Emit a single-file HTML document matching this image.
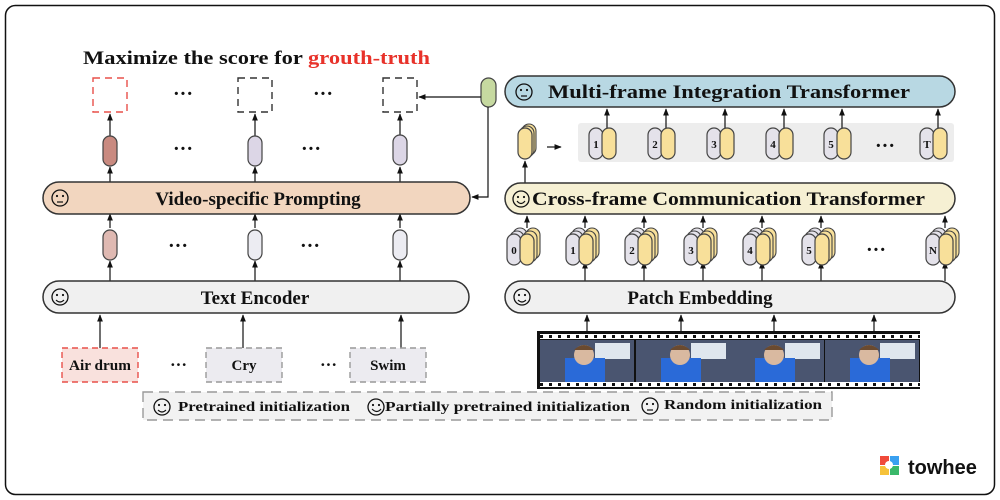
<!DOCTYPE html>
<html><head><meta charset="utf-8"><style>
html,body{margin:0;padding:0;background:#fff;width:1000px;height:500px;overflow:hidden}
svg{display:block}
text{font-family:"Liberation Serif",serif;font-weight:bold;fill:#111}
</style></head><body>
<svg width="1000" height="500" viewBox="0 0 1000 500" xmlns="http://www.w3.org/2000/svg">
<defs>
<marker id="ah" viewBox="0 0 10 10" refX="9" refY="5" markerWidth="6" markerHeight="6" orient="auto-start-reverse"><path d="M0,1 L10,5 L0,9 z" fill="#111"/></marker>
<g id="face">
<circle cx="0" cy="0" r="8" fill="none" stroke="#111" stroke-width="1.3"/>
<circle cx="-3" cy="-2" r="1.1" fill="#111"/><circle cx="3" cy="-2" r="1.1" fill="#111"/>
</g>
<g id="pair">
<rect x="0" y="0" width="14" height="31" rx="7" fill="#e4e2ea" stroke="#444" stroke-width="1.2"/>
<rect x="13" y="0" width="14" height="31" rx="7" fill="#f8e09a" stroke="#444" stroke-width="1.2"/>
</g>
<g id="stack">
<rect x="6" y="-6" width="14" height="31" rx="7" fill="#e4e2ea" stroke="#444" stroke-width="1.1"/>
<rect x="3" y="-3" width="14" height="31" rx="7" fill="#e4e2ea" stroke="#444" stroke-width="1.1"/>
<rect x="0" y="0" width="14" height="31" rx="7" fill="#e4e2ea" stroke="#444" stroke-width="1.2"/>
<rect x="19" y="-6" width="14" height="31" rx="7" fill="#f8e09a" stroke="#444" stroke-width="1.1"/>
<rect x="16" y="-3" width="14" height="31" rx="7" fill="#f8e09a" stroke="#444" stroke-width="1.1"/>
<rect x="13" y="0" width="14" height="31" rx="7" fill="#f8e09a" stroke="#444" stroke-width="1.2"/>
</g>
<g id="frame">
<rect x="0" y="0" width="94" height="42" fill="#6a7aa0"/>
<rect x="0" y="0" width="94" height="42" fill="#2a3040" opacity="0.5"/>
<rect x="55" y="3" width="35" height="16" fill="#dfe6ee"/>
<rect x="25" y="18" width="40" height="24" fill="#2a6ad8"/>
<circle cx="44" cy="15" r="10" fill="#d9b9a0"/>
<path d="M34 10 Q44 0 54 10 Z" fill="#6a4a30"/>
</g>
</defs>

<rect x="5.5" y="5.5" width="989" height="489" rx="10" fill="#fff" stroke="#111" stroke-width="1.5"/>

<text x="83" y="64" font-size="19" textLength="347" lengthAdjust="spacingAndGlyphs">Maximize the score for <tspan fill="#e8322a">grouth-truth</tspan></text>

<rect x="93" y="78" width="34" height="34" fill="none" stroke="#e8504a" stroke-width="1.4" stroke-dasharray="7,5"/>
<rect x="238" y="78" width="34" height="34" fill="none" stroke="#333" stroke-width="1.4" stroke-dasharray="7,5"/>
<rect x="383" y="78" width="34" height="34" fill="none" stroke="#333" stroke-width="1.4" stroke-dasharray="7,5"/>
<g font-size="20"><text x="173" y="100">···</text><text x="313" y="100">···</text>
<text x="173" y="155">···</text><text x="301" y="155">···</text>
<text x="168" y="252">···</text><text x="300" y="252">···</text></g>

<g stroke="#111" stroke-width="1.2" marker-end="url(#ah)">
<line x1="110" y1="136" x2="110" y2="114"/><line x1="255" y1="136" x2="255" y2="114"/><line x1="400" y1="136" x2="400" y2="114"/>
<line x1="110" y1="182" x2="110" y2="167"/><line x1="255" y1="182" x2="255" y2="167"/><line x1="400" y1="182" x2="400" y2="167"/>
<line x1="110" y1="228" x2="110" y2="214"/><line x1="255" y1="228" x2="255" y2="214"/><line x1="400" y1="228" x2="400" y2="214"/>
<line x1="110" y1="281" x2="110" y2="261"/><line x1="255" y1="281" x2="255" y2="261"/><line x1="400" y1="281" x2="400" y2="261"/>
<line x1="100" y1="348" x2="100" y2="315"/><line x1="243" y1="348" x2="243" y2="315"/><line x1="401" y1="348" x2="401" y2="315"/>
</g>
<rect x="103" y="136" width="14" height="30" rx="7" fill="#c98a80" stroke="#444" stroke-width="1.2"/>
<rect x="248" y="136" width="14" height="30" rx="7" fill="#dcd6e6" stroke="#444" stroke-width="1.2"/>
<rect x="393" y="135" width="14" height="30" rx="7" fill="#dcd6e6" stroke="#444" stroke-width="1.2"/>
<rect x="103" y="230" width="14" height="30" rx="7" fill="#dfb9b2" stroke="#444" stroke-width="1.2"/>
<rect x="248" y="230" width="14" height="30" rx="7" fill="#ececf2" stroke="#444" stroke-width="1.2"/>
<rect x="393" y="230" width="14" height="30" rx="7" fill="#ececf2" stroke="#444" stroke-width="1.2"/>

<rect x="43" y="182" width="427" height="32" rx="16" fill="#f2d6bf" stroke="#333" stroke-width="1.5"/>
<use href="#face" x="60" y="198"/><line x1="57" y1="202" x2="63" y2="202" stroke="#111" stroke-width="1.2"/>
<text x="258" y="205" font-size="19" text-anchor="middle">Video-specific Prompting</text>

<rect x="43" y="281" width="426" height="32" rx="16" fill="#f0f0f0" stroke="#333" stroke-width="1.5"/>
<use href="#face" x="60" y="297"/><path d="M56 300 Q60 304 64 300" fill="none" stroke="#111" stroke-width="1.2"/>
<text x="255" y="304" font-size="19" text-anchor="middle">Text Encoder</text>

<rect x="62" y="348" width="76" height="34" fill="#f9e1dd" stroke="#e8504a" stroke-width="1.4" stroke-dasharray="6,4"/>
<rect x="206" y="348" width="76" height="34" fill="#ecebf0" stroke="#999" stroke-width="1.4" stroke-dasharray="6,4"/>
<rect x="350" y="348" width="76" height="34" fill="#ecebf0" stroke="#999" stroke-width="1.4" stroke-dasharray="6,4"/>
<g font-size="15"><text x="100" y="370" text-anchor="middle" textLength="62" lengthAdjust="spacingAndGlyphs">Air drum</text>
<text x="244" y="370" text-anchor="middle">Cry</text>
<text x="388" y="370" text-anchor="middle">Swim</text></g>
<g font-size="17"><text x="170" y="370">···</text><text x="320" y="370">···</text></g>

<rect x="143" y="392" width="689" height="28" fill="#f2f2f2" stroke="#999" stroke-width="1.4" stroke-dasharray="10,6"/>
<use href="#face" x="162" y="407"/><path d="M158 410 Q162 414 166 410" fill="none" stroke="#111" stroke-width="1.2"/>
<text x="178" y="411" font-size="13.5" textLength="172" lengthAdjust="spacingAndGlyphs">Pretrained initialization</text>
<use href="#face" x="376" y="407"/><path d="M372 409 Q377 414 381 409" fill="none" stroke="#111" stroke-width="1.2"/>
<text x="385" y="411" font-size="13.5" textLength="245" lengthAdjust="spacingAndGlyphs">Partially pretrained initialization</text>
<use href="#face" x="650" y="406"/><line x1="647" y1="410" x2="653" y2="410" stroke="#111" stroke-width="1.2"/>
<text x="664" y="409" font-size="13.5" textLength="158" lengthAdjust="spacingAndGlyphs">Random initialization</text>

<rect x="505" y="76" width="450" height="31" rx="15.5" fill="#b8d8e3" stroke="#333" stroke-width="1.5"/>
<use href="#face" x="524" y="92"/><line x1="521" y1="96" x2="527" y2="96" stroke="#111" stroke-width="1.2"/>
<text x="548" y="98" font-size="19" textLength="362" lengthAdjust="spacingAndGlyphs">Multi-frame Integration Transformer</text>

<rect x="481" y="78" width="15" height="29" rx="7.5" fill="#c6d9a0" stroke="#444" stroke-width="1.2"/>
<g stroke="#111" stroke-width="1.2" fill="none">
<line x1="481" y1="97" x2="419" y2="97" marker-end="url(#ah)"/>
<polyline points="488,107 488,197 472,197" marker-end="url(#ah)"/>
</g>

<rect x="578" y="123" width="376" height="39" rx="3" fill="#ededed"/>
<g stroke="#111" stroke-width="1.2" marker-end="url(#ah)">
<line x1="607" y1="128" x2="607" y2="109"/><line x1="666" y1="128" x2="666" y2="109"/><line x1="725" y1="128" x2="725" y2="109"/>
<line x1="784" y1="128" x2="784" y2="109"/><line x1="842" y1="128" x2="842" y2="109"/><line x1="938" y1="128" x2="938" y2="109"/>
<line x1="525" y1="183" x2="525" y2="161"/>
<line x1="547" y1="147" x2="561" y2="147"/>
</g>
<rect x="522" y="124" width="14" height="31" rx="7" fill="#f8e09a" stroke="#444" stroke-width="1.1"/>
<rect x="520" y="126" width="14" height="31" rx="7" fill="#f8e09a" stroke="#444" stroke-width="1.1"/>
<rect x="518" y="128" width="14" height="31" rx="7" fill="#f8e09a" stroke="#444" stroke-width="1.2"/>

<use href="#pair" x="589" y="128"/><use href="#pair" x="648" y="128"/><use href="#pair" x="707" y="128"/>
<use href="#pair" x="766" y="128"/><use href="#pair" x="824" y="128"/><use href="#pair" x="920" y="128"/>
<g font-size="11" text-anchor="middle"><text x="596" y="148">1</text><text x="655" y="148">2</text><text x="714" y="148">3</text>
<text x="773" y="148">4</text><text x="831" y="148">5</text><text x="927" y="148">T</text></g>
<text x="875" y="152" font-size="20">···</text>

<rect x="505" y="183" width="450" height="31" rx="15.5" fill="#f6f0d3" stroke="#333" stroke-width="1.5"/>
<use href="#face" x="521" y="199"/><path d="M517 201 Q521 206 525 201" fill="none" stroke="#111" stroke-width="1.2"/>
<text x="532" y="205" font-size="19" textLength="393" lengthAdjust="spacingAndGlyphs">Cross-frame Communication Transformer</text>

<g stroke="#111" stroke-width="1.2" marker-end="url(#ah)">
<line x1="527" y1="228" x2="527" y2="216"/><line x1="585" y1="228" x2="585" y2="216"/><line x1="644" y1="228" x2="644" y2="216"/>
<line x1="703" y1="228" x2="703" y2="216"/><line x1="762" y1="228" x2="762" y2="216"/><line x1="821" y1="228" x2="821" y2="216"/>
<line x1="945" y1="228" x2="945" y2="216"/>
<line x1="585" y1="281" x2="585" y2="262"/><line x1="644" y1="281" x2="644" y2="262"/><line x1="703" y1="281" x2="703" y2="262"/>
<line x1="762" y1="281" x2="762" y2="262"/><line x1="821" y1="281" x2="821" y2="262"/><line x1="945" y1="281" x2="945" y2="262"/>
<line x1="587" y1="331" x2="587" y2="315"/><line x1="681" y1="331" x2="681" y2="315"/><line x1="774" y1="331" x2="774" y2="315"/><line x1="874" y1="331" x2="874" y2="315"/>
</g>
<use href="#stack" x="507" y="234"/><use href="#stack" x="566" y="234"/><use href="#stack" x="625" y="234"/>
<use href="#stack" x="684" y="234"/><use href="#stack" x="743" y="234"/><use href="#stack" x="802" y="234"/><use href="#stack" x="926" y="234"/>
<g font-size="11" text-anchor="middle"><text x="514" y="254">0</text><text x="573" y="254">1</text><text x="632" y="254">2</text>
<text x="691" y="254">3</text><text x="750" y="254">4</text><text x="809" y="254">5</text><text x="933" y="254">N</text></g>
<text x="866" y="256" font-size="20">···</text>

<rect x="505" y="281" width="450" height="32" rx="16" fill="#f0f0f0" stroke="#333" stroke-width="1.5"/>
<use href="#face" x="522" y="297"/><path d="M518 300 Q522 304 526 300" fill="none" stroke="#111" stroke-width="1.2"/>
<text x="700" y="304" font-size="19" text-anchor="middle">Patch Embedding</text>

<rect x="537" y="331" width="383" height="58" fill="#111"/>
<rect x="540" y="334" width="380" height="5" fill="#fff"/>
<rect x="540" y="382" width="380" height="5" fill="#fff"/>
<g fill="none" stroke="#111" stroke-width="3" stroke-dasharray="3,6"><line x1="540" y1="336.5" x2="920" y2="336.5"/><line x1="540" y1="384.5" x2="920" y2="384.5"/></g>
<use href="#frame" x="540" y="340"/><use href="#frame" x="636" y="340"/><use href="#frame" x="730" y="340"/><use href="#frame" x="825" y="340"/>

<rect x="880" y="456" width="9" height="9" fill="#f04a3a"/><rect x="890" y="456" width="9" height="9" fill="#3aa0f0"/>
<rect x="880" y="466" width="9" height="9" fill="#f6c23a"/><rect x="890" y="466" width="9" height="9" fill="#3ab86a"/>
<circle cx="889" cy="465" r="4" fill="#fff"/>
<text x="908" y="474" font-size="20" style="font-family:'Liberation Sans',sans-serif">towhee</text>
</svg>
</body></html>
